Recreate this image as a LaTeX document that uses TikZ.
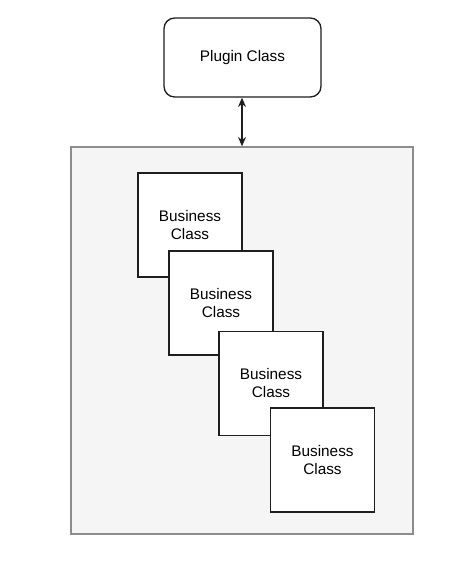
\documentclass[tikz,border=0pt]{standalone}
\usepackage{fontspec}
\usetikzlibrary{arrows.meta}
\setmainfont{Liberation Sans}
\definecolor{panelgray}{HTML}{F5F5F5}
\definecolor{panelline}{HTML}{8C8C8C}
\definecolor{inkline}{HTML}{1E1E1E}
\tikzset{
  classbox/.style={shape=rectangle, draw=inkline, fill=white, line width=1pt, inner sep=0,
    minimum width=78pt, minimum height=78pt, align=center, font=\fontsize{11.5}{13.5}\selectfont},
  pluginbox/.style={classbox, rounded corners=8pt, minimum width=117.75pt, minimum height=59.25pt}
}
\begin{document}
\begin{tikzpicture}[x=0.75pt, y=-0.75pt]
          \useasboundingbox (0,0) rectangle (474,569);
          % Paths, nodes and wires:
          \node[pluginbox] (plugin) at (242.5, 57.5){Plugin Class};
          \node[shape=rectangle, draw=panelline, fill=panelgray, line width=1pt, inner sep=0, minimum width=256.5pt, minimum height=290.25pt] (panel) at (242, 340.5){};
          \node[classbox] (biz1) at (190, 225){Business\\Class};
          \node[classbox] (biz2) at (221, 303){Business\\Class};
          \node[classbox] (biz3) at (271, 383.5){Business\\Class};
          \node[classbox] (biz4) at (322.5, 460){Business\\Class};
          \draw[{Stealth[length=7pt, width=6pt]}-{Stealth[length=7pt, width=6pt]}, line width=1.1pt, draw=inkline] (plugin.south -| panel.north) -- (panel.north);
        \end{tikzpicture}
\end{document}
